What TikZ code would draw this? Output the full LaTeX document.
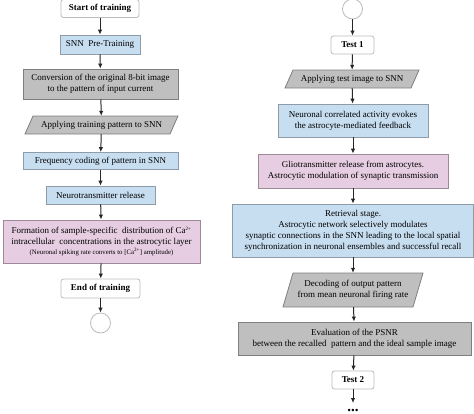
\documentclass[tikz,border=0pt]{standalone}
\usepackage{fontspec}
\setmainfont{Liberation Serif}
\usetikzlibrary{arrows.meta}
\definecolor{bluef}{HTML}{C7DDF0}
\definecolor{blued}{HTML}{8E9CAA}
\definecolor{pinkf}{HTML}{E6CDE1}
\definecolor{pinkd}{HTML}{9C8A98}
\definecolor{grayf}{HTML}{BFBFBF}
\definecolor{grayd}{HTML}{7F7F7F}
\definecolor{whited}{HTML}{BBBBBB}
\newcommand{\casup}{Ca\textsuperscript{\fontsize{5}{5}\selectfont 2+}}
\begin{document}
\begin{tikzpicture}[x=1pt,y=-1pt,
  every node/.style={font=\fontsize{9}{11}\selectfont, inner sep=0pt, align=center},
  bluebox/.style={rectangle, draw=blued, fill=bluef, line width=0.8pt},
  pinkbox/.style={rectangle, draw=pinkd, fill=pinkf, line width=0.8pt},
  graybox/.style={rectangle, draw=grayd, fill=grayf, line width=0.8pt},
  whitebox/.style={rectangle, rounded corners=2.5pt, draw=whited, fill=white, line width=0.8pt, font=\fontsize{9}{11}\selectfont\bfseries},
  circ/.style={circle, draw=whited, line width=0.8pt, minimum size=20pt},
  para/.style={draw=grayd, fill=grayf, line width=0.8pt},
  arr/.style={-{Latex[length=5pt,width=4.5pt]}, line width=1pt, black!85}
]
\useasboundingbox (0,0) rectangle (474,413);

% ---------- left column ----------
\node[whitebox, minimum width=78pt, minimum height=18pt] (start) at (100,8.5) {Start of training};
\node[bluebox, minimum width=80pt, minimum height=19pt] (pre) at (100,44.5) {SNN\ \ Pre-Training};
\node[graybox, minimum width=155pt, minimum height=30pt] (conv) at (100.5,84) {Conversion of the original 8-bit image\\to the pattern of input current};
\draw[para] (33,116) -- (178,116) -- (170,134) -- (25,134) -- cycle;
\node[minimum width=145pt, minimum height=18pt] (p1) at (101.5,125) {Applying training pattern to SNN};
\node[bluebox, minimum width=155pt, minimum height=17pt] (freq) at (100.5,161) {Frequency coding of pattern in SNN};
\node[bluebox, minimum width=109pt, minimum height=18pt] (neuro) at (100.5,195) {Neurotransmitter release};
\node[pinkbox, minimum width=197pt, minimum height=43pt] (form) at (101.5,241.5)
  {Formation of sample-specific\ \ distribution of \casup\\intracellular\ \ concentrations in the astrocytic layer\\[-1pt]
   {\fontsize{6.8}{8}\selectfont (Neuronal spiking rate converts to [\casup] amplitude)}};
\node[whitebox, minimum width=79pt, minimum height=19pt] (end) at (100.5,288.5) {End of training};
\node[circ] (c1) at (100.5,323) {};

\draw[arr] (start) -- (pre);
\draw[arr] (pre) -- (conv);
\draw[arr] (conv) -- (p1);
\draw[arr] (p1) -- (freq);
\draw[arr] (freq) -- (neuro);
\draw[arr] (neuro) -- (form);
\draw[arr] (form) -- (end);
\draw[arr] (end) -- (c1);

% ---------- right column ----------
\node[circ] (c2) at (352.5,9) {};
\node[whitebox, minimum width=43pt, minimum height=18pt] (test1) at (352.5,45) {Test 1};
\draw[para] (293,70) -- (419,70) -- (411,88) -- (285,88) -- cycle;
\node[minimum width=126pt, minimum height=18pt] (p2) at (352,79) {Applying test image to SNN};
\node[bluebox, minimum width=150pt, minimum height=33pt] (neu) at (353,120.5) {Neuronal correlated activity evokes\\the astrocyte-mediated feedback};
\node[pinkbox, minimum width=190pt, minimum height=34pt] (glio) at (353,171) {Gliotransmitter release from astrocytes.\\Astrocytic modulation of synaptic transmission};
\node[bluebox, minimum width=241pt, minimum height=53pt] (retr) at (353,230.5) {Retrieval stage.\\Astrocytic network selectively modulates\\synaptic connections in the SNN leading to the local spatial\\synchronization in neuronal ensembles and successful recall};
\draw[para] (293,273) -- (423,273) -- (413,307) -- (283,307) -- cycle;
\node[minimum width=130pt, minimum height=34pt] (p3) at (353,290) {Decoding of output pattern\\from mean neuronal firing rate};
\node[graybox, minimum width=233pt, minimum height=33pt] (eval) at (354.5,338.5) {Evaluation of the PSNR\\between the recalled\ \ pattern and the ideal sample image};
\node[whitebox, minimum width=42pt, minimum height=18pt] (test2) at (353,380) {Test 2};
\node[anchor=base, font=\fontsize{15}{15}\selectfont\bfseries] (dots) at (353,411) {...};
\coordinate (dotstop) at (353,403);

\draw[arr] (c2) -- (test1);
\draw[arr] (test1) -- (p2);
\draw[arr] (p2) -- (neu);
\draw[arr] (neu) -- (glio);
\draw[arr] (glio) -- (retr);
\draw[arr] (retr) -- (p3);
\draw[arr] (p3) -- (eval);
\draw[arr] (eval) -- (test2);
\draw[arr] (test2) -- (dotstop);
\end{tikzpicture}
\end{document}
